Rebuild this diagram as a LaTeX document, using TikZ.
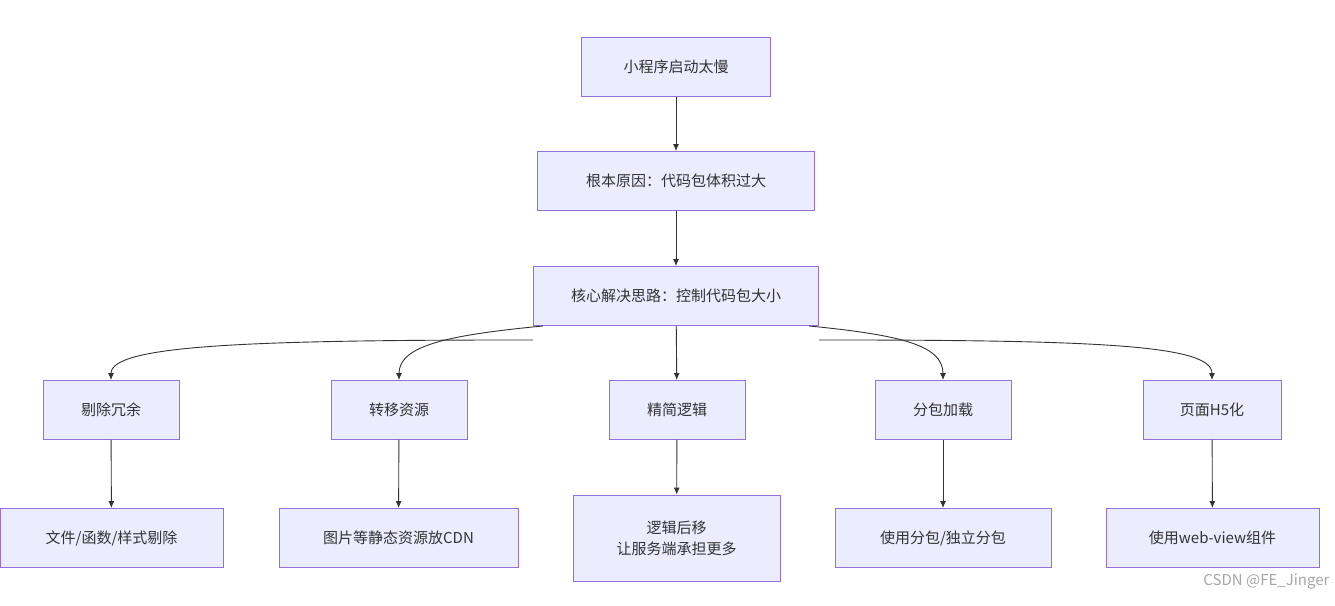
\documentclass[tikz,border=0pt]{standalone}
\usepackage{fontspec}
\setmainfont{Noto Sans CJK SC}
\usetikzlibrary{arrows.meta}
\definecolor{nfill}{HTML}{ECECFF}
\definecolor{nline}{HTML}{9370DB}
\definecolor{eline}{HTML}{333333}
\begin{document}
\begin{tikzpicture}[x=1pt,y=-1pt,
  box/.style={draw=nline,fill=nfill,line width=0.9pt,inner sep=0pt,align=center,text=eline,font=\fontsize{15}{21}\selectfont},
  edge/.style={draw=eline,line width=0.9pt,-{Latex[length=7pt,width=6pt]}}]
\useasboundingbox (0,0) rectangle (1335,605);
\node[box,minimum width=189pt,minimum height=59pt] (a) at (676,67) {小程序启动太慢};
\node[box,minimum width=277pt,minimum height=59pt] (b) at (676,181) {根本原因：代码包体积过大};
\node[box,minimum width=285pt,minimum height=59pt] (c) at (676,296) {核心解决思路：控制代码包大小};
\node[box,minimum width=136pt,minimum height=59pt] (d1) at (111,410) {剔除冗余};
\node[box,minimum width=136pt,minimum height=59pt] (d2) at (399,410) {转移资源};
\node[box,minimum width=136pt,minimum height=59pt] (d3) at (677,410) {精简逻辑};
\node[box,minimum width=136pt,minimum height=59pt] (d4) at (943,410) {分包加载};
\node[box,minimum width=138pt,minimum height=59pt] (d5) at (1212,410) {页面H5化};
\node[box,minimum width=223pt,minimum height=59pt] (e1) at (111.5,538) {文件/函数/样式剔除};
\node[box,minimum width=239pt,minimum height=59pt] (e2) at (398.5,538) {图片等静态资源放CDN};
\node[box,minimum width=207pt,minimum height=86pt] (e3) at (676.5,538) {逻辑后移\\让服务端承担更多};
\node[box,minimum width=216pt,minimum height=59pt] (e4) at (943,538) {使用分包/独立分包};
\node[box,minimum width=213pt,minimum height=59pt] (e5) at (1212.5,538) {使用web-view组件};
\draw[edge] (a) -- (b);
\draw[edge] (b) -- (c);
\draw[edge] (c) -- (d3);
\draw[edge] ([yshift=-14pt]c.south west) .. controls (250,340) and (111,345) .. (d1.north);
\draw[edge] ([xshift=10pt]c.south west) .. controls (450,335) and (399,345) .. (d2.north);
\draw[edge] ([xshift=-10pt]c.south east) .. controls (900,335) and (943,345) .. (d4.north);
\draw[edge] ([yshift=-14pt]c.south east) .. controls (1100,340) and (1212,345) .. (d5.north);
\draw[edge] (d1) -- (e1);
\draw[edge] (d2) -- (e2);
\draw[edge] (d3) -- (e3);
\draw[edge] (d4) -- (e4);
\draw[edge] (d5) -- (e5);
\node[font=\fontsize{15}{18}\selectfont,text=black!35,anchor=east] (w) at (1333,582) {CSDN @FE\_Jinger};
\end{tikzpicture}
\end{document}
